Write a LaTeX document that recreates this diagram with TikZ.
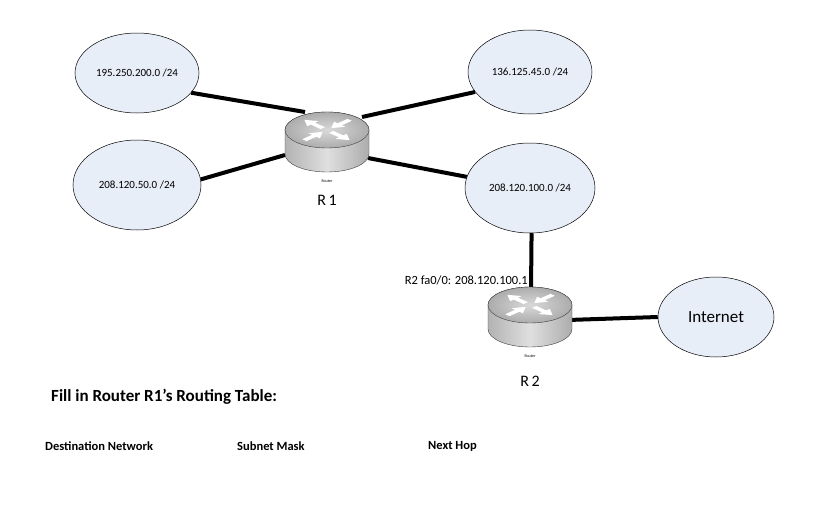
\documentclass[tikz,border=0pt]{standalone}
\usepackage{fontspec}
\setmainfont{Carlito}
\usetikzlibrary{shapes.geometric}
\definecolor{netfill}{HTML}{E8EEF8}
\begin{document}
\begin{tikzpicture}[x=1pt,y=-1pt,
  net/.style={draw=black,fill=netfill,line width=0.5pt,ellipse,inner sep=0pt},
  link/.style={line width=4pt,black},
  lbl/.style={font=\fontsize{11}{13}\selectfont},
  hdr/.style={font=\bfseries\fontsize{12.5}{14}\selectfont,anchor=west}]
\useasboundingbox (0,0) rectangle (831,522);
\newcommand{\routerpic}[3]{% name, x, y (top ellipse centre)
  \begin{scope}[shift={(#2,#3)}]
    \shade[left color=gray!60,right color=gray!65,middle color=gray!25,draw=gray!50!black,line width=0.4pt]
      (-42,0) -- (-42,24) arc[start angle=180,end angle=0,x radius=42,y radius=18] -- (42,0) arc[start angle=0,end angle=-180,x radius=42,y radius=18] -- cycle;
    \shade[inner color=gray!30,outer color=gray!65,draw=gray!50!black,line width=0.4pt] (0,0) ellipse[x radius=42,y radius=18];
    \begin{scope}[yscale=0.45]
      \foreach \a/\d in {135/-1,45/1,225/1,315/-1}{
        \begin{scope}[rotate=-\a]
          \ifnum\d=1
            \fill[white] (6,-3) -- (20,-3) -- (20,-8) -- (32,0) -- (20,8) -- (20,3) -- (6,3) -- cycle;
          \else
            \fill[white] (32,-3) -- (18,-3) -- (18,-8) -- (6,0) -- (18,8) -- (18,3) -- (32,3) -- cycle;
          \fi
        \end{scope}}
    \end{scope}
    \node[inner sep=0pt] (#1) at (0,20) {};
    \node[font=\fontsize{4}{4}\selectfont] at (0,51) {Router};
  \end{scope}}
\node[net,minimum width=124pt,minimum height=80pt,lbl] (n1) at (137,73) {195.250.200.0 /24};
\node[net,minimum width=128pt,minimum height=90pt,lbl] (n2) at (137,185) {208.120.50.0 /24};
\node[net,minimum width=124pt,minimum height=84pt,lbl] (n3) at (530,72) {136.125.45.0 /24};
\node[net,minimum width=130pt,minimum height=90pt,lbl] (n4) at (530,188) {208.120.100.0 /24};
\node[net,minimum width=116pt,minimum height=80pt,font=\fontsize{17}{20}\selectfont] (inet) at (716,317) {Internet};
\coordinate (r1a) at (305,112); \coordinate (r1b) at (285,155);
\coordinate (r1c) at (362,117); \coordinate (r1d) at (368,158);
\coordinate (r2a) at (531,290); \coordinate (r2b) at (568,320);
\draw[link] (n1.-20) -- (r1a);
\draw[link] (n2.5) -- (r1b);
\draw[link] (n3.200) -- (r1c);
\draw[link] (n4.170) -- (r1d);
\draw[link] (n4.272) -- (r2a);
\draw[link] (inet.180) -- (r2b);
\routerpic{R1}{327}{130}
\routerpic{R2}{530}{305}
\node[font=\fontsize{16}{18}\selectfont] (l1) at (327,200) {R\,1};
\node[font=\fontsize{16}{18}\selectfont] (l2) at (530,381) {R\,2};
\node[font=\fontsize{12.5}{14}\selectfont,anchor=east,inner sep=0pt] (ip) at (528,280) {R2 fa0/0: 208.120.100.1};
\node[font=\bfseries\fontsize{17}{20}\selectfont,anchor=west,inner sep=0pt] (t) at (51,397) {Fill in Router R1's Routing Table:};
\node[hdr,inner sep=0pt] (h1) at (45,446) {Destination Network};
\node[hdr,inner sep=0pt] (h2) at (237,446) {Subnet Mask};
\node[hdr,inner sep=0pt] (h3) at (428,446) {Next Hop};
\end{tikzpicture}
\end{document}
